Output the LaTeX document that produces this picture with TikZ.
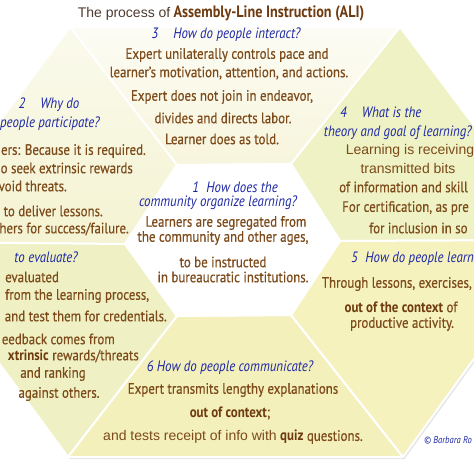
\documentclass[tikz,border=0pt]{standalone}
\usepackage{fontspec}
\usepackage{amsmath,tikz,tkz-euclide}
\usetikzlibrary{shadows}
\setmainfont{PT Sans}[FakeStretch=0.86,UprightFeatures={FakeBold=0.4}]
\newfontfamily\arialfont{Liberation Sans}
\definecolor{brn}{RGB}{125,74,26}
\definecolor{brnB}{RGB}{110,58,14}
\definecolor{qblue}{RGB}{30,40,165}
\definecolor{ttlgray}{RGB}{78,58,46}
\definecolor{regtwo}{RGB}{244,243,210}
\definecolor{regthree}{RGB}{247,245,220}
\definecolor{regfour}{RGB}{238,242,196}
\definecolor{regfive}{RGB}{245,242,190}
\definecolor{regsix}{RGB}{243,240,188}
\definecolor{regseven}{RGB}{239,241,196}
\tikzset{
        txt/.style={text=brn,font=\fontsize{15}{17}\selectfont,inner sep=0pt},
        ques/.style={text=qblue,font=\fontsize{15}{17}\selectfont\itshape,inner sep=0pt},
        part/.style={draw=white,line width=2pt,line join=round},
        shd/.style={drop shadow={opacity=.22,shadow xshift=1.5pt,shadow yshift=-2pt}}
}

\begin{document}
\begin{tikzpicture}[x=1pt,y=-1pt]
        \useasboundingbox (0,0) rectangle (474,474);
        \tkzDefPoint(125,244){L}
        \tkzDefPoint(177,316){BL}
        \tkzDefPoint(291,315){BR}
        \tkzDefPoint(340,241){R}
        \tkzDefPoint(291,164){TR}
        \tkzDefPoint(177,165){TL}
        \tkzDefPoint(70,27){OTL}
        \tkzDefPoint(400,27){OTR}
        \tkzDefPoint(560,240){OR}
        \tkzDefPoint(403,457){OBR}
        \tkzDefPoint(68,457){OBL}
        \tkzDefPoint(-90,242){OL}

        \filldraw[part,top color=white!70!regthree,bottom color=regthree] (TL)--(TR)--(OTR)--(OTL)--cycle;
        \filldraw[part,top color=white!60!regtwo,bottom color=regtwo] (L)--(TL)--(OTL)--(OL)--cycle;
        \filldraw[part,fill=regfour] (TR)--(R)--(OR)--(OTR)--cycle;
        \filldraw[part,shd,fill=regseven] (BL)--(L)--(OL)--(OBL)--cycle;
        \filldraw[part,shd,fill=regsix] (BR)--(BL)--(OBL)--(OBR)--cycle;
        \filldraw[part,shd,fill=regfive] (R)--(BR)--(OBR)--(OR)--cycle;
        \filldraw[part,fill=white] (L)--(BL)--(BR)--(R)--(TR)--(TL)--cycle;

        \node[font=\fontsize{14}{16}\selectfont,text=ttlgray,inner sep=0pt] (title) at (221,13) {{\arialfont The process of} {\fontsize{16.5}{18}\selectfont\bfseries\color{brnB}Assembly-Line Instruction (ALI)}};

        \node[ques] (q3) at (226,35) {3\quad How do people interact?};
        \node[txt] (t3a) at (227,55) {Expert unilaterally controls pace and};
        \node[txt] (t3b) at (229,73) {learner’s motivation, attention, and actions.};
        \node[txt] (t3c) at (222,97) {Expert does not join in endeavor,};
        \node[txt] (t3d) at (223,118) {divides and directs labor.};
        \node[txt] (t3e) at (222,139) {Learner does as told.};

        \node[ques] (q2a) at (49,105) {2\quad Why do};
        \node[ques,anchor=east] (q2b) at (100,124) {people participate?};
        \node[txt,anchor=east] (t2a) at (146,151) {ers: Because it is required.};
        \node[txt,anchor=east] (t2b) at (133,168) {o seek extrinsic rewards};
        \node[txt,anchor=east] (t2c) at (67,186) {void threats.};
        \node[txt,anchor=east] (t2d) at (103,211) {to deliver lessons.};
        \node[txt,anchor=east] (t2e) at (129,229) {hers for success/failure.};

        \node[ques,anchor=east] (q7) at (78,257) {to evaluate?};
        \node[txt,anchor=west] (t7a) at (5,277) {evaluated};
        \node[txt,anchor=west] (t7b) at (5,296) {from the learning process,};
        \node[txt,anchor=east] (t7c) at (167,316) {and test them for credentials.};
        \node[txt,anchor=east] (t7d) at (115,339) {eedback comes from};
        \node[txt,anchor=east] (t7e) at (139,356) {\textbf{\color{brnB}xtrinsic} rewards/threats};
        \node[txt] (t7f) at (53,374) {and ranking};
        \node[txt] (t7g) at (59,394) {against others.};

        \node[ques] (q1a) at (235,187) {1\enspace How does the};
        \node[ques] (q1b) at (218,203) {community organize learning?};
        \node[txt] (t1a) at (226,223) {Learners are segregated from};
        \node[txt] (t1b) at (223,238) {the community and other ages,};
        \node[txt] (t1c) at (223,262) {to be instructed};
        \node[txt] (t1d) at (233,277) {in bureaucratic institutions.};

        \node[ques,anchor=west] (q4a) at (340,112) {4\quad What is the};
        \node[ques,anchor=east] (q4b) at (472,133) {theory and goal of learning?};
        \node[txt,font=\arialfont\fontsize{14}{16}\selectfont] (t4a) at (410,151) {Learning is receiving};
        \node[txt,font=\arialfont\fontsize{14}{16}\selectfont] (t4b) at (408,168) {transmitted bits};
        \node[txt,anchor=west] (t4c) at (339,187) {of information and skill};
        \node[txt,anchor=west] (t4d) at (342,208) {For certification, as pre};
        \node[txt,anchor=west] (t4e) at (369,228) {for inclusion in so};

        \node[ques,anchor=west] (q5) at (351,259) {5\enspace How do people learn};
        \node[txt,anchor=east] (t5a) at (472,284) {Through lessons, exercises,};
        \node[txt] (t5b) at (401,307) {\textbf{\color{brnB}out of the context} of};
        \node[txt] (t5c) at (402,324) {productive activity.};

        \node[ques] (q6) at (230,368) {6 How do people communicate?};
        \node[txt] (t6a) at (233,390) {Expert transmits lengthy explanations};
        \node[txt] (t6b) at (230,413) {\textbf{\color{brnB}out of context};};
        \node[txt] (t6c) at (233,437) {{\arialfont\fontsize{14}{16}\selectfont and tests receipt of info with} \textbf{\color{brnB}quiz} questions.};

        \node[ques,anchor=west,font=\fontsize{10}{11}\selectfont\itshape] (copy) at (424,440) {\textcopyright\ Barbara Ro};
    \end{tikzpicture}
\end{document}
